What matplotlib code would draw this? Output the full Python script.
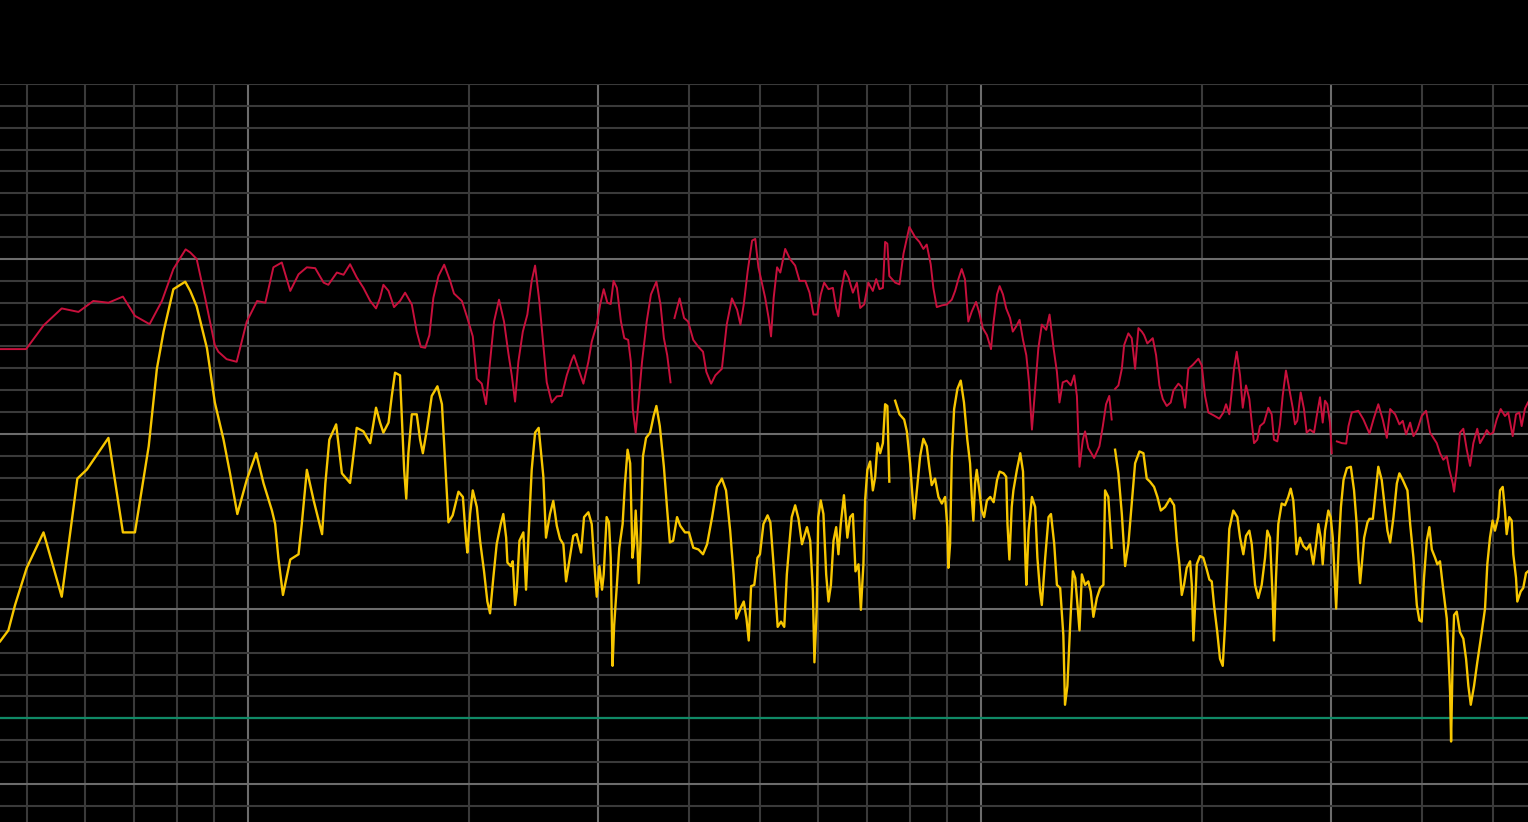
import numpy as np
import matplotlib
matplotlib.use("Agg")
import matplotlib.pyplot as plt
from matplotlib.ticker import FixedLocator, NullFormatter

nan = np.nan

# frequency response (red) - Hz / dB, NaN marks a break in the trace
red_freq = [
    45.9, 49.8, 52.6, 55.7, 58.7, 61.5, 64.5, 67.5, 70.1, 73.4, 76.3, 79.1, 82.2,
    83.4, 85.1, 87.4, 90.1, 91.1, 93.5, 96.5, 99.6, 102.9, 105.6, 108.3, 111.2, 114.2,
    117.2, 120.3, 123.5, 126.8, 128.7, 132.2, 135.0, 137.8, 140.7, 143.7, 146.8, 149.5,
    151.4, 153.0, 155.5, 158.2, 161.2, 163.8, 167.3, 169.9, 172.1, 174.5, 176.8, 179.0,
    181.9, 185.2, 188.7, 191.0, 195.8, 199.2, 202.6, 205.2, 208.4, 211.2, 213.9, 216.6,
    220.0, 223.5, 226.6, 229.0, 231.4, 233.8, 237.1, 240.5, 243.8, 246.4, 249.7, 252.9,
    255.6, 259.6, 263.8, 267.9, 272.2, 276.5,
    278.4, 282.3, 286.8, 291.3, 294.4, 299.1, 302.3, 305.7, 309.2, 312.5, 315.3, 318.6,
    322.7, 326.1, 330.1, 332.9, 334.9, 338.0, 341.3, 344.8, 349.9, 354.6, 360.7, 365.4,
    369.3, 373.2, 377.1, nan,
    381.8, 388.0, 393.5, 398.5, 405.0, 411.7, 417.6, 422.0, 428.4, 434.1, 443.1, 449.9,
    457.3, 464.8, 469.7, 474.6, 480.6, 487.2, 492.1, 497.0,
    507.7, 513.2, 517.1, 521.4, 527.0, 532.4, 540.6, 548.8, 557.8, 565.5, 575.8, 583.6,
    590.8, 598.0, 604.5, 611.0, 619.4, 628.0, 634.5, 639.0, 645.7, 652.3, 659.4, 668.7,
    677.2, 684.3, 692.8, 702.0, 712.0, 719.5, 727.0, 734.8, 740.0, 745.2, 749.8, 763.7,
    774.1, 783.9, 798.5, 813.1, 824.2, 834.5, 843.3, 853.9, 861.0, 870.4, 884.3, 898.1,
    912.4,
    922.0, 931.5, 941.3, 950.9, 961.0, 971.5, 984.7, 994.8, 1005.6, 1018.8, 1032.0,
    1040.6, 1051.8, 1060.4, 1071.6, 1082.5, 1095.7, 1105.1, 1117.0, 1128.9, 1141.2,
    1153.1, 1162.8, 1173.6, 1185.6, 1197.5, 1210.6, 1227.5, 1240.4, 1256.1, 1269.4,
    1279.6, 1292.9, 1309.3, 1326.3, 1340.3, 1351.7, 1362.7, 1377.1, 1386.9, 1400.9,
    1426.8, 1450.9, 1466.4, 1481.4, 1496.4, 1507.8, nan,
    1523.9, 1540.0, 1556.6, 1567.8, 1588.8, 1605.7, 1622.8, 1639.9, 1657.5,
    1669.4, 1686.5, 1715.4, 1733.5, 1751.6, 1770.3, 1792.3, 1815.1, 1830.2, 1859.3,
    1879.1, 1898.3, 1918.4, 1945.4, 1979.8, 2000.6, 2021.8, 2042.9, 2075.0, 2114.2,
    2141.2, 2159.5, 2181.8, 2198.0, 2214.2, 2233.3, 2256.7, 2275.9, 2299.3, 2323.5,
    2341.2, 2358.1, 2382.4, 2402.3, 2433.1, 2466.2, 2492.3, 2510.4, 2536.8, 2558.4,
    2580.0, 2606.7, 2634.2, 2662.5, 2681.7, 2700.9, 2730.2, 2758.6, 2781.9, 2810.8,
    2846.8, 2876.6, 2900.9, 2925.9, 2947.2, 2968.5, 2993.5, 3009.8, nan,
    3058.8, 3107.8, 3150.0, 3172.5, 3205.9, 3272.2, 3325.2, 3388.8, 3431.1, 3484.1,
    3533.1, 3578.8, 3616.4, 3673.5, 3722.6, 3762.1, 3802.2, 3850.7, 3890.8, 3939.3,
    3992.7, 4047.9, 4099.7, 4142.5, 4186.5, 4229.3, 4273.4, 4320.1, 4355.8, 4402.5,
    4420.3, 4457.4, 4502.9, 4550.9, 4600.3, 4648.3, 4696.2, 4754.6, 4795.7, 4856.7,
    4897.9, 4948.2, 4998.5, 5053.2, 5117.7, 5187.1, 5240.3, 5314.2, 5370.0, 5425.7,
    5466.2, 5523.3, 5576.0,
]
red_db = [
    -20.6, -20.6, -15.2, -11.3, -12.1, -9.6, -10.0, -8.6, -13.0, -14.9, -9.6, -2.3, 2.2,
    1.5, 0.0, -8.9, -19.7, -21.2, -22.9, -23.5, -14.3, -9.6, -10.0, -1.9, -0.8, -7.3,
    -3.5, -1.9, -2.1, -5.4, -5.9, -3.1, -3.6, -1.2, -4.2, -6.6, -9.6, -11.3,
    -8.9, -5.9, -7.3, -11.0, -9.6, -7.7, -10.4, -16.6, -20.1, -20.3, -17.4, -8.9,
    -3.9, -1.3, -5.0, -7.9, -9.6, -13.5, -17.7, -27.4, -28.5, -33.2, -23.5, -14.3,
    -9.3, -14.3, -21.6, -26.6, -32.6, -23.5, -16.6, -12.7, -5.0, -1.5, -9.6, -19.7,
    -28.2, -32.8, -31.4, -31.3, -26.6, -23.1,
    -22.0, -25.1, -28.5, -23.5, -18.9, -15.0, -10.4, -6.9, -10.0, -10.3, -5.0, -6.6,
    -14.3, -18.1, -18.5, -23.5, -34.3, -39.7, -32.0, -23.5, -14.3, -8.1, -5.2, -10.4,
    -18.1, -22.0, -28.2, nan,
    -13.5, -9.0, -13.5, -14.3, -18.5, -20.1, -21.2, -25.8, -28.5, -26.6, -25.1, -15.0,
    -9.0, -11.6, -15.0, -10.4, -2.7, 4.2, 4.6, -1.9,
    -8.9, -13.5, -17.7, -8.9, -1.9, -3.1, 2.3, 0.0, -1.5, -5.0, -5.0, -7.7,
    -12.7, -12.7, -8.1, -5.4, -6.9, -6.6, -11.2, -13.1, -6.6, -2.7, -4.2, -7.7,
    -5.4, -11.2, -10.4, -5.4, -7.3, -4.6, -6.9, -6.6, 3.9, 3.5, -3.9, -5.4,
    -5.8, 1.2, 7.3, 5.0, 3.9, 2.3, 3.3, -1.2, -6.6, -11.0, -10.6, -10.4,
    -9.3,
    -7.3, -4.6, -2.3, -4.6, -14.3, -12.0, -9.8, -12.3, -15.8, -17.4, -20.6,
    -14.3, -8.1, -6.2, -8.1, -11.3, -13.5, -16.6, -15.4, -13.9, -18.5,
    -22.0, -28.2, -39.0, -29.7, -20.4, -15.0, -16.2, -12.7, -20.4, -25.8,
    -32.8, -28.2, -27.8, -28.9, -26.6, -31.3, -47.5, -41.3, -39.4, -43.2,
    -45.5, -42.8, -38.2, -33.2, -31.3, -36.7, nan,
    -29.7, -28.9, -25.1, -19.7, -17.0, -18.1, -25.1, -15.8, -16.6,
    -17.4, -19.3, -18.1, -22.0, -28.9, -32.0, -33.6, -32.8, -30.1, -28.5,
    -29.3, -34.0, -25.1, -24.2, -22.8, -24.3, -31.3, -35.1, -35.7, -36.5,
    -35.1, -33.2, -35.5, -30.5, -25.1, -21.2, -26.6, -34.0, -28.9, -32.0,
    -37.4, -42.1, -41.3, -38.2, -37.4, -34.0, -35.5, -41.3, -41.7, -37.8,
    -31.3, -25.5, -29.7, -34.0, -37.8, -37.0, -30.5, -34.3, -39.7, -39.0,
    -39.7, -35.1, -31.6, -37.4, -32.4, -33.2, -37.4, -44.4, nan,
    -41.7, -42.1, -42.2, -38.2, -35.1, -34.7, -36.7, -39.9, -36.7, -33.2,
    -36.7, -40.9, -34.3, -35.5, -37.8, -37.0, -40.1, -37.4, -40.5, -39.0,
    -35.9, -34.7, -39.7, -40.9, -42.1, -44.4, -45.9, -45.1, -48.2, -51.3,
    -53.2, -48.2, -39.7, -38.8, -43.6, -47.3, -42.1, -38.8, -42.1, -40.5,
    -39.1, -40.1, -39.7, -36.7, -34.3, -35.9, -35.1, -40.5, -35.5, -35.1,
    -38.2, -34.2, -32.8,
]

# distortion trace (yellow) - Hz / dB
yel_freq = [
    45.9, 47.1, 48.1, 49.9, 52.6, 55.7, 58.5, 60.3, 64.5, 67.5, 70.1, 73.2, 75.1, 76.7,
    79.1, 82.1,
    83.4, 85.1, 87.9, 90.1, 92.6, 94.5, 96.7, 99.6, 102.6, 105.0, 107.8, 108.9, 110.0,
    111.6, 114.2, 117.2, 118.4, 120.3, 122.9, 126.2, 127.5, 129.1, 131.9, 134.3, 137.8,
    139.2, 140.7, 143.7, 146.8, 149.5,
    151.4, 153.0, 155.5, 157.1, 158.7, 161.2, 162.6, 163.3, 164.4, 165.5,
    167.3, 169.9, 171.7, 173.2, 175.4, 178.1, 181.3, 183.9, 185.8, 187.7,
    190.2, 193.7, 196.4, 198.4, 199.2, 200.9, 202.6, 205.2, 207.3, 209.9,
    212.1, 213.9, 216.1, 218.4, 221.2, 223.0, 225.0, 225.9, 228.3, 229.7,
    231.4, 232.6, 234.6, 237.5, 239.5, 241.2, 243.8, 246.4, 249.2, 252.9,
    255.0, 258.2, 260.9, 263.8, 266.5, 269.3, 271.6,
    277.8, 280.8, 284.7, 287.4, 291.3, 294.4, 297.5, 299.1, 301.6, 304.1,
    305.7, 308.5, 310.8, 312.5, 314.3, 315.9, 318.6, 321.0, 324.4, 326.8,
    329.5, 332.2, 333.6, 334.6, 336.3, 338.0, 339.7, 341.3, 343.1, 345.8,
    349.2, 353.7, 357.6, 360.7, 364.6, 369.3, 373.2, 376.3, 380.2, 384.9,
    388.8, 394.6, 399.6, 405.0, 411.7, 417.6, 423.0, 429.7, 436.4, 443.1,
    448.9, 454.8, 459.7, 463.7, 469.7, 474.6, 478.7, 482.1, 485.7, 490.6,
    495.5,
    499.4, 504.9, 511.5, 516.0, 520.4, 524.2, 528.0, 533.6, 539.0, 543.4,
    547.7, 551.8, 557.8, 563.7, 569.9, 578.9, 584.8, 589.7, 592.6, 596.9,
    599.8, 604.5, 609.6, 614.9, 619.4, 624.1, 629.2, 634.5, 639.0, 643.7,
    650.2, 657.2, 662.9, 668.7, 674.2, 680.6, 685.7, 691.2, 694.9, 699.8,
    705.9, 712.0, 717.3, 722.5, 728.6, 734.8, 740.0, 745.2, 749.8, nan,
    763.7, 774.1, 785.6, 792.2, 800.3, 807.2, 810.6, 817.5, 826.0, 834.5,
    843.3, 850.0, 856.6, 865.7, 874.9, 884.3, 893.4, 899.7, 902.6,
    907.5, 912.4, 919.1, 928.6, 938.4, 948.0, 958.0, 966.3, 971.5, 976.4,
    981.6, 986.8, 994.8, 1002.3, 1009.9, 1018.8, 1029.7, 1040.6, 1051.8, 1060.4,
    1073.6, 1082.5, 1086.8, 1093.4, 1101.4, 1107.2, 1119.5, 1131.4, 1141.2, 1149.5,
    1153.1, 1161.4, 1173.6, 1185.6, 1193.9, 1203.9, 1210.6, 1223.5, 1236.5, 1245.9,
    1258.8, 1269.4, 1282.4, 1295.3, 1302.1, 1311.9, 1323.3, 1334.7, 1344.5, 1354.2,
    1362.7, 1372.9, 1386.9, 1400.9, 1411.8, 1423.6, 1439.1, 1454.1, 1469.1, 1476.8,
    1491.8, 1507.8, nan,
    1523.9, 1540.0, 1556.6, 1572.7, 1588.8, 1605.7, 1622.8, 1645.1,
    1665.8, 1683.4, 1700.5, 1722.5, 1740.7, 1759.3, 1783.0, 1811.0, 1834.3, 1850.0,
    1865.1, 1879.1, 1892.4, 1908.6, 1928.8, 1939.3, 1949.1, 1959.5, 1969.9, 1990.2,
    2010.9, 2032.7, 2049.4, 2064.7, 2079.5, 2100.7, 2118.9, 2137.2, 2152.7, 2168.2,
    2181.8, 2209.2, 2237.6, 2256.7, 2280.1, 2299.3, 2323.5, 2341.2, 2365.4, 2389.7,
    2415.4, 2440.8, 2458.5, 2479.2, 2500.0, 2510.4, 2526.4, 2544.8, 2572.0, 2598.4,
    2625.8, 2645.8, 2667.5, 2681.7, 2695.8, 2724.1, 2752.6, 2781.9, 2810.8, 2840.5,
    2864.9, 2885.6, 2907.4, 2925.9, 2947.2, 2977.8, 3000.0, 3019.6,
    3052.0, 3074.5, 3098.0, 3123.5, 3156.9, 3196.1, 3228.4, 3255.3, 3272.2, 3290.3,
    3308.3, 3332.6, 3367.6, 3388.8, 3424.8, 3449.2, 3484.1, 3521.7, 3559.4, 3585.6,
    3616.4, 3654.1, 3692.9, 3722.6, 3762.1, 3817.9, 3850.7, 3890.8, 3932.0, 3963.6,
    3992.7, 4022.0, 4057.0, 4090.7, 4121.8, 4164.5, 4194.3, 4229.3, 4265.1, 4320.1,
    4342.0, 4365.4, 4379.1, 4402.5, 4420.3, 4457.4, 4502.9, 4550.9, 4590.1, 4623.5,
    4658.4, 4706.4, 4754.6, 4821.6, 4871.9, 4907.0, 4948.2, 4989.3, 5025.8, 5079.0,
    5106.5, 5150.0, 5187.1, 5214.5, 5256.8, 5297.3, 5324.3, 5370.0, 5391.9, 5449.3,
    5493.2, 5541.2, 5576.0,
]
yel_db = [
    -87.4, -84.9, -79.1, -70.6, -62.5, -77.2, -50.2, -48.1, -40.9, -62.5, -62.5, -42.8,
    -25.1, -16.6, -6.9, -5.2,
    -7.3, -10.8, -20.4, -32.8, -41.3, -49.0, -58.3, -50.5, -44.4, -51.3, -57.5, -60.6,
    -68.3, -76.8, -68.7, -67.5, -60.6, -48.2, -55.2, -62.9, -51.3, -41.3, -37.8, -49.0,
    -51.2, -45.1, -38.6, -39.4, -42.1, -34.0,
    -37.4, -39.7, -37.4, -31.3, -26.0, -26.6, -41.3, -48.2, -54.8, -44.4,
    -35.5, -35.5, -41.3, -44.4, -39.0, -31.3, -29.1, -33.2, -46.7, -60.2,
    -58.6, -53.2, -54.4, -64.4, -67.1, -58.3, -52.9, -56.7, -64.4, -71.4,
    -78.3, -81.0, -72.9, -65.2, -60.6, -58.3, -63.7, -69.4, -70.2, -69.1,
    -79.1, -76.0, -64.4, -62.5, -75.6, -64.4, -48.2, -39.7, -38.6, -49.8,
    -63.7, -58.3, -55.3, -61.0, -64.0, -65.2, -73.7,
    -63.3, -62.9, -67.1, -59.0, -57.9, -60.6, -72.1, -77.2, -70.2, -75.6,
    -72.1, -59.0, -60.2, -68.3, -93.0, -83.7, -74.5, -66.0, -60.6, -51.3,
    -43.6, -46.7, -59.0, -68.3, -65.2, -57.5, -64.4, -74.1, -65.2, -45.1,
    -40.9, -39.7, -35.9, -33.6, -38.2, -47.5, -57.5, -64.8, -64.4, -59.0,
    -61.0, -62.5, -62.5, -66.0, -66.4, -67.5, -65.2, -59.0, -52.1, -50.2,
    -52.9, -62.1, -72.1, -82.2, -79.9, -78.3, -82.2, -87.2, -74.8, -74.5,
    -68.3,
    -67.5, -60.6, -58.6, -60.2, -68.3, -76.0, -84.1, -82.9, -84.1, -72.1,
    -65.2, -59.0, -56.3, -59.4, -65.2, -61.3, -64.4, -76.0, -92.2, -79.9,
    -59.0, -55.2, -58.3, -72.1, -78.3, -74.5, -64.4, -61.3, -67.5, -60.6,
    -54.0, -63.7, -59.0, -58.3, -71.4, -69.8, -80.2, -69.8, -55.2, -48.2,
    -46.3, -52.9, -49.8, -42.1, -44.4, -42.1, -33.2, -33.6, -50.9, nan,
    -32.4, -35.5, -36.7, -39.4, -46.7, -55.2, -59.4, -52.9, -45.1, -41.1,
    -42.8, -47.5, -51.7, -50.2, -54.4, -55.9, -54.4, -61.3, -70.6,
    -65.2, -45.1, -34.3, -29.7, -27.8, -32.8, -41.3, -46.7, -54.4, -59.8,
    -51.3, -48.2, -52.9, -57.5, -59.0, -55.2, -54.4, -55.6, -50.5, -48.6,
    -49.0, -49.8, -60.6, -68.7, -56.7, -52.9, -48.2, -44.4, -48.6, -68.3,
    -74.5, -62.1, -54.4, -56.7, -68.3, -76.0, -79.1, -68.3, -59.0, -58.3,
    -65.2, -74.5, -75.2, -86.0, -101.9, -97.6, -83.7, -71.4, -72.9, -79.1,
    -84.9, -72.1, -74.5, -73.7, -76.0, -81.8, -77.5, -75.2, -74.5, -52.9,
    -54.4, -66.0, nan,
    -43.6, -49.0, -58.3, -70.2, -65.2, -55.9, -46.7, -44.0,
    -44.4, -50.2, -50.9, -52.1, -54.4, -57.5, -56.7, -54.8, -56.3, -64.4,
    -69.8, -76.8, -74.5, -70.6, -69.1, -74.5, -87.2, -79.1, -69.8, -67.9,
    -68.3, -71.0, -73.3, -73.7, -79.1, -85.3, -91.4, -93.0, -83.7, -72.1,
    -61.7, -57.5, -59.0, -63.7, -67.5, -63.3, -62.1, -65.2, -74.5, -77.5,
    -74.5, -68.3, -62.1, -63.7, -77.5, -87.2, -72.9, -60.6, -55.9, -56.3,
    -54.4, -52.5, -55.2, -60.6, -67.5, -63.7, -65.6, -66.4, -65.2, -69.8,
    -65.2, -60.6, -63.7, -69.8, -62.1, -57.5, -59.0, -63.7,
    -79.9, -66.7, -56.7, -50.5, -47.8, -47.5, -52.9, -60.6, -68.3, -74.1,
    -69.8, -63.7, -60.2, -59.4, -59.4, -54.4, -47.5, -50.5, -57.5, -62.1,
    -64.8, -59.0, -51.3, -49.0, -50.5, -52.9, -60.6, -68.3, -79.1, -82.6,
    -82.9, -72.9, -64.4, -61.3, -66.4, -68.3, -69.8, -69.1, -74.5, -82.2,
    -89.9, -99.2, -110.3, -89.9, -81.4, -80.6, -85.3, -86.8, -91.4, -97.6,
    -101.9, -97.6, -92.2, -85.3, -79.9, -69.8, -63.7, -59.8, -62.1, -59.0,
    -52.9, -52.1, -57.5, -62.9, -59.0, -59.8, -67.5, -72.9, -78.3, -76.0,
    -75.2, -71.8, -71.4,
]

ref_level = -105.0  # green reference line

major_x = [100, 300, 1000, 3000]
minor_x = [50, 60, 70, 80, 90, 200, 400, 500, 600, 700, 800, 900, 2000, 4000, 5000]
major_y = [-120, -80, -40, 0]
minor_y = [v for v in range(-125, 45, 5) if v not in major_y]

x_range = (45.88, 5576.0)
y_range = (-128.7, 40.0)

fig = plt.figure(figsize=(15.28, 8.22), dpi=100, facecolor="black")
ax = fig.add_axes([0, 0, 1, 738 / 822])
ax.set_facecolor("black")

ax.set_xscale("log")
ax.set_xlim(*x_range)
ax.set_ylim(*y_range)

ax.xaxis.set_major_locator(FixedLocator(major_x))
ax.xaxis.set_minor_locator(FixedLocator(minor_x))
ax.yaxis.set_major_locator(FixedLocator(major_y))
ax.yaxis.set_minor_locator(FixedLocator(minor_y))
ax.xaxis.set_major_formatter(NullFormatter())
ax.xaxis.set_minor_formatter(NullFormatter())
ax.yaxis.set_major_formatter(NullFormatter())
ax.tick_params(which="both", length=0, labelbottom=False, labelleft=False)

ax.grid(which="minor", color="#3a3a3a", linewidth=1.5)
ax.grid(which="major", color="#6c6c6c", linewidth=1.5)
ax.set_axisbelow(True)
for s in ax.spines.values():
    s.set_visible(False)

ax.axhline(ref_level, color="#0f8a66", linewidth=1.6, zorder=2)
ax.plot(red_freq, red_db, color="#c8103c", linewidth=1.4, zorder=3)
ax.plot(yel_freq, yel_db, color="#f7c600", linewidth=1.7, zorder=4)

fig.savefig("out.png", dpi=100, facecolor="black")
